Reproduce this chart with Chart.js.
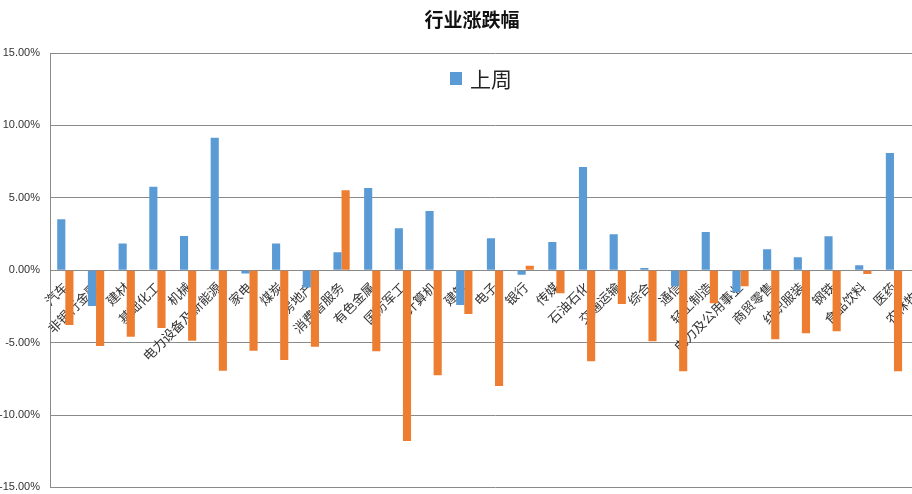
<!DOCTYPE html>
<html>
<head>
<meta charset="utf-8">
<title>行业涨跌幅</title>
<script src="https://cdn.jsdelivr.net/npm/chart.js@4/dist/chart.umd.min.js"></script>
<style>
    html, body { margin: 0; padding: 0; background: #fff; overflow: hidden; }
    #wrap { position: relative; width: 944px; height: 504px; }
    #title {
        position: absolute; left: 0; top: 5px; width: 944px;
        text-align: center; font: bold 19px "Noto Sans CJK SC", sans-serif; color: #111;
    }
    #legend {
        position: absolute; left: 450px; top: 63px;
        font: 21px "Noto Sans CJK SC", sans-serif; color: #222; white-space: nowrap;
    }
    #legend .box {
        display: inline-block; width: 12px; height: 13px; background: #5B9BD5;
        margin-right: 8px; vertical-align: 2px;
    }
</style>
</head>
<body>
<div id="wrap">
    <div id="title">行业涨跌幅</div>
    <canvas id="industryChart"></canvas>
    <div id="legend"><span class="box"></span>上周</div>
</div>
<script>
// ===========================
// DATA (percent)
// ===========================
const industries = [
    "汽车", "非银行金融", "建材", "基础化工", "机械", "电力设备及新能源", "家电", "煤炭",
    "房地产", "消费者服务", "有色金属", "国防军工", "计算机", "建筑", "电子", "银行",
    "传媒", "石油石化", "交通运输", "综合", "通信", "轻工制造", "电力及公用事业",
    "商贸零售", "纺织服装", "钢铁", "食品饮料", "医药", "农林牧渔"
];

const lastWeek = [
    3.52, -2.47, 1.84, 5.76, 2.37, 9.15, -0.23, 1.84,
    -1.20, 1.24, 5.67, 2.90, 4.08, -2.40, 2.21, -0.32,
    1.94, 7.12, 2.49, 0.16, -1.10, 2.63, -1.52,
    1.45, 0.90, 2.35, 0.35, 8.09, 1.50
];

const thisWeek = [
    -3.78, -5.23, -4.60, -3.99, -4.88, -6.95, -5.57, -6.20,
    -5.28, 5.53, -5.60, -11.80, -7.26, -3.02, -8.00, 0.30,
    -1.59, -6.29, -2.33, -4.90, -6.98, -2.28, -1.10,
    -4.77, -4.35, -4.22, -0.26, -6.98, -3.00
];

const yTicks = [-15, -10, -5, 0, 5, 10, 15];

// ===========================
// CHART
// ===========================
const ctx = document.getElementById("industryChart").getContext("2d");

new Chart(ctx, {
    type: "bar",
    data: {
        labels: industries,
        datasets: [
            {
                label: "上周",
                data: lastWeek,
                backgroundColor: "#5B9BD5",
                categoryPercentage: 0.53,
                barPercentage: 1.0
            },
            {
                label: "本周",
                data: thisWeek,
                backgroundColor: "#ED7D31",
                categoryPercentage: 0.53,
                barPercentage: 1.0
            }
        ]
    },
    options: {
        responsive: true,
        maintainAspectRatio: false,
        animation: false,
        layout: { padding: { top: 53, bottom: 0, right: 4, left: 0 } },
        plugins: {
            title: { display: false },
            tooltip: { enabled: false },
            legend: { display: false }
        },
        scales: {
            x: {
                position: { y: 0 },
                grid: { display: false },
                border: { color: "#8a8a8a", width: 1 },
                ticks: {
                    autoSkip: false,
                    minRotation: 45,
                    maxRotation: 45,
                    padding: 1,
                    color: "#333",
                    font: { size: 13, family: "'Noto Sans CJK SC', sans-serif" }
                }
            },
            y: {
                min: -15,
                max: 15,
                afterFit: s => { s.width = 50; },
                afterBuildTicks: s => { s.ticks = yTicks.map(v => ({ value: v })); },
                grid: { color: "#8a8a8a", drawTicks: false },
                border: { color: "#8a8a8a", width: 1 },
                ticks: {
                    padding: 10,
                    color: "#333",
                    font: { size: 11, family: "'Liberation Sans', sans-serif" },
                    callback: v => v.toFixed(2) + "%"
                }
            }
        }
    }
});
</script>
</body>
</html>
